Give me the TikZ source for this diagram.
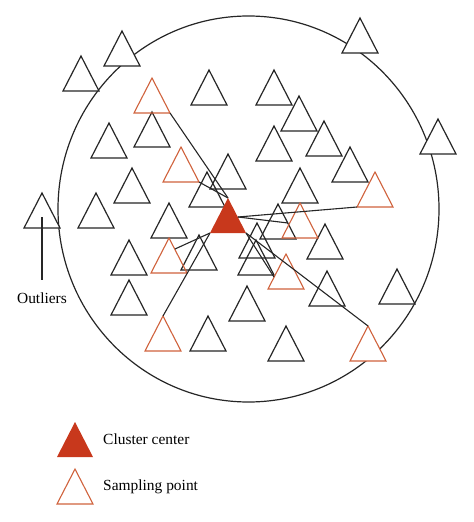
\documentclass[tikz,border=0pt]{standalone}
\usepackage{fontspec}
\setmainfont{Liberation Serif}
\definecolor{cred}{HTML}{C8381C}
\definecolor{corange}{HTML}{D0623C}
\newcommand\tripath[2]{(#1-18,#2+35)--(#1,#2)--(#1+18,#2+35)--cycle}
\begin{document}
\begin{tikzpicture}[x=1bp,y=-1bp,
  tri/.style={draw=black!85,line width=1.2bp},
  samp/.style={draw=corange,line width=1.1bp},
  conn/.style={draw=black!85,line width=1.1bp},
  lbl/.style={font=\fontsize{15.5}{18}\selectfont,inner sep=0pt}]
\useasboundingbox (0,0) rectangle (474,522);
% big circle
\draw[line width=1.2bp,black!85] (248.5,209) ellipse [x radius=190.5bp, y radius=193bp];
% white fills
\foreach \a/\b in {122/31,81/56,360/18,438/119,42/193,209/70,274/70,152/112,299/96,109/123,274/126,324/121,350/147,228/154,132/168,207/172,300/168,96/193,169/203,278/204,325/224,257/223,129/240,199/235,256/240,327/271,397/269,129/280,247/286,208/316,286/326,152/78,181/147,375/172,300/203,169/238,286/254,163/316,368/326}
  {\fill[white] \tripath{\a}{\b};}
% black triangles
\foreach \a/\b in {122/31,81/56,360/18,438/119,42/193,209/70,274/70,152/112,299/96,109/123,274/126,324/121,350/147,228/154,132/168,207/172,300/168,96/193,169/203,278/204,325/224,257/223,129/240,199/235,256/240,327/271,397/269,129/280,247/286,208/316,286/326}
  {\path[tri] \tripath{\a}{\b};}
% sampling points
\foreach \a/\b in {152/78,181/147,375/172,300/203,169/238,286/254,163/316,368/326}
  {\path[samp] \tripath{\a}{\b};}
% cluster center
\fill[cred] \tripath{228}{198};
\coordinate (ctop) at (228,198);
\coordinate (cright) at (238,217);
\coordinate (cbl) at (210,233);
\coordinate (cbr) at (246,233);
\coordinate (s1) at (170,113);
\coordinate (s2) at (199,182);
\coordinate (s3) at (357,207);
\coordinate (s4) at (288,223);
\coordinate (s5) at (175,249);
\coordinate (s6) at (163,316);
\coordinate (s7) at (274,277);
\coordinate (s8) at (368,326);
\draw[conn] (s1) -- (ctop);
\draw[conn] (s2) -- (ctop);
\draw[conn] (cright) -- (s3);
\draw[conn] (cright) -- (s4);
\draw[conn] (cbl) -- (s5);
\draw[conn] (cbl) -- (s6);
\draw[conn] (cbr) -- (s7);
\draw[conn] (cbr) -- (s8);
% outliers label
\coordinate (otop) at (42,217);
\coordinate (obot) at (42,280);
\draw[line width=1.1bp,black!85] (otop) -- (obot);
\node[lbl] (out) at (42,298) {Outliers};
% legend
\fill[cred] \tripath{75}{422};
\path[samp] \tripath{75}{469};
\node[lbl,anchor=west] (lc) at (103,439) {Cluster center};
\node[lbl,anchor=west] (ls) at (103,487) {Sampling point};
\end{tikzpicture}
\end{document}
